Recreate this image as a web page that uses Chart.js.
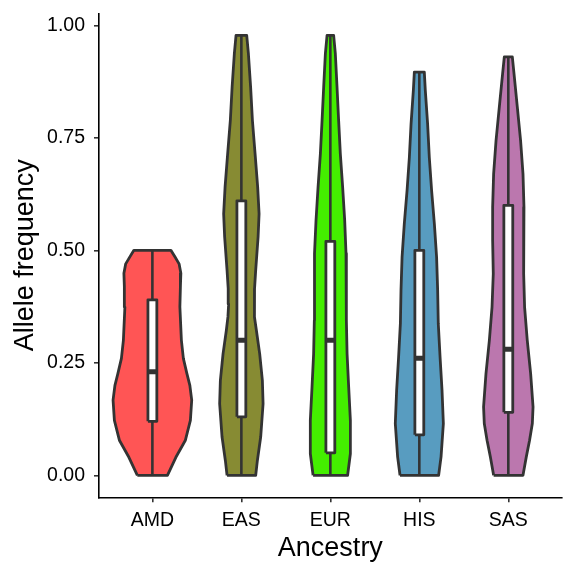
<!DOCTYPE html>
<html>
<head>
<meta charset="utf-8">
<script src="https://cdn.jsdelivr.net/npm/chart.js@4"></script>
<style>
html,body{margin:0;padding:0;background:#fff;}
#wrap{width:576px;height:576px;position:relative;}
</style>
</head>
<body>
<div id="wrap"><canvas id="c"></canvas></div>
<script>
// ---- data ----
const categories = ['AMD', 'EAS', 'EUR', 'HIS', 'SAS'];
const yTicks = [0, 0.25, 0.5, 0.75, 1.0];

// violin outlines: allele-frequency levels and half-widths (in category units)
const amdLevels = [0, 0.04, 0.078, 0.122, 0.167, 0.20, 0.226, 0.26, 0.30, 0.374, 0.42, 0.449, 0.47, 0.485, 0.5];
const amdWidths = [0.169, 0.264, 0.371, 0.427, 0.442, 0.421, 0.388, 0.348, 0.326, 0.309, 0.315, 0.320, 0.300, 0.255, 0.208];

const easLevels = [0, 0.033, 0.085, 0.159, 0.211, 0.270, 0.322, 0.352, 0.381, 0.415, 0.456, 0.530, 0.581, 0.641, 0.715, 0.789, 0.863, 0.937, 0.978];
const easWidths = [0.161, 0.180, 0.217, 0.244, 0.236, 0.206, 0.169, 0.151, 0.143, 0.148, 0.161, 0.188, 0.199, 0.183, 0.154, 0.124, 0.104, 0.079, 0.060];

const eurLevels = [0, 0.048, 0.122, 0.196, 0.270, 0.344, 0.418, 0.493, 0.567, 0.641, 0.715, 0.789, 0.863, 0.937, 0.978];
const eurWidths = [0.194, 0.225, 0.225, 0.206, 0.188, 0.180, 0.180, 0.176, 0.161, 0.138, 0.112, 0.093, 0.075, 0.056, 0.037];

const hisLevels = [0, 0.041, 0.115, 0.189, 0.263, 0.337, 0.411, 0.485, 0.559, 0.633, 0.707, 0.781, 0.856, 0.896];
const hisWidths = [0.217, 0.244, 0.270, 0.255, 0.233, 0.213, 0.206, 0.194, 0.169, 0.138, 0.112, 0.093, 0.067, 0.056];

const sasLevels = [0, 0.041, 0.078, 0.115, 0.152, 0.226, 0.300, 0.374, 0.448, 0.522, 0.596, 0.670, 0.744, 0.819, 0.893, 0.930];
const sasWidths = [0.165, 0.202, 0.239, 0.270, 0.278, 0.251, 0.213, 0.183, 0.169, 0.176, 0.176, 0.165, 0.138, 0.101, 0.064, 0.045];

// box-plot statistics
const mins    = [0, 0, 0, 0, 0];
const q1      = [0.12, 0.13, 0.05, 0.09, 0.14];
const medians = [0.23, 0.30, 0.30, 0.26, 0.28];
const q3      = [0.39, 0.61, 0.52, 0.50, 0.60];
const maxs    = [0.50, 0.978, 0.978, 0.896, 0.930];

// ---- styles ----
const fillColors = ['#FF5555', '#878B33', '#44EE00', '#589CC0', '#BB77AE'];
const lineColor = '#333333';
const boxHalf = 0.05;

const violinLevels = [amdLevels, easLevels, eurLevels, hisLevels, sasLevels];
const violinWidths = [amdWidths, easWidths, eurWidths, hisWidths, sasWidths];

const datasets = [];
categories.forEach((cat, i) => {
  const c = i + 1;
  const lv = violinLevels[i], wd = violinWidths[i];
  const pts = [];
  for (let k = 0; k < lv.length; k++) pts.push({x: c - wd[k], y: lv[k]});
  for (let k = lv.length - 1; k >= 0; k--) pts.push({x: c + wd[k], y: lv[k]});
  pts.push({x: c - wd[0], y: lv[0]});
  datasets.push({
    order: 40, data: pts, showLine: true, fill: 'shape', backgroundColor: fillColors[i],
    borderColor: lineColor, borderWidth: 2.8, pointRadius: 0, tension: 0, borderJoinStyle: 'round'
  });
  // whiskers
  datasets.push({order: 30, data: [{x: c, y: mins[i]}, {x: c, y: q1[i]}], showLine: true, fill: false,
    borderColor: lineColor, borderWidth: 2.6, pointRadius: 0, borderCapStyle: 'butt'});
  datasets.push({order: 30, data: [{x: c, y: q3[i]}, {x: c, y: maxs[i]}], showLine: true, fill: false,
    borderColor: lineColor, borderWidth: 2.6, pointRadius: 0, borderCapStyle: 'butt'});
  // box
  datasets.push({
    order: 20,
    data: [{x: c - boxHalf, y: q1[i]}, {x: c - boxHalf, y: q3[i]}, {x: c + boxHalf, y: q3[i]},
           {x: c + boxHalf, y: q1[i]}, {x: c - boxHalf, y: q1[i]}],
    showLine: true, fill: 'shape', backgroundColor: '#FFFFFF', borderColor: lineColor,
    borderWidth: 2.8, pointRadius: 0, borderJoinStyle: 'round'
  });
  // median
  datasets.push({order: 10, data: [{x: c - boxHalf, y: medians[i]}, {x: c + boxHalf, y: medians[i]}],
    showLine: true, fill: false, borderColor: lineColor, borderWidth: 5, pointRadius: 0, borderCapStyle: 'butt'});
});

const tickFont = {family: 'Liberation Sans', size: 19.5};
const titleFont = {family: 'Liberation Sans', size: 27};

new Chart(document.getElementById('c'), {
  type: 'scatter',
  data: {datasets},
  options: {
    responsive: true, maintainAspectRatio: false, animation: false,
    layout: {padding: {top: 13.3, right: 14.3, left: 0, bottom: 0}},
    plugins: {legend: {display: false}, tooltip: {enabled: false}},
    scales: {
      x: {
        type: 'linear', min: 0.4, max: 5.6,
        afterBuildTicks: s => { s.ticks = categories.map((_, i) => ({value: i + 1})); },
        afterFit: s => { s.height = 78.7; s.paddingLeft = 0; s.paddingRight = 0; },
        ticks: {font: tickFont, color: '#000', padding: 7, maxRotation: 0, autoSkip: false,
          callback: v => categories[Math.round(v) - 1]},
        grid: {display: true, drawOnChartArea: false, drawTicks: true, tickLength: 5, color: lineColor, lineWidth: 1.6},
        border: {display: true, color: '#000', width: 1.6},
        title: {display: true, text: 'Ancestry', font: titleFont, color: '#000', padding: {top: 0, bottom: 10.8}}
      },
      y: {
        type: 'linear', min: -0.0489, max: 1.0269,
        afterBuildTicks: s => { s.ticks = yTicks.map(v => ({value: v})); },
        afterFit: s => { s.width = 99; s.paddingTop = 0; s.paddingBottom = 0; },
        ticks: {font: tickFont, color: '#000', padding: 9, autoSkip: false,
          callback: v => Number(v).toFixed(2)},
        grid: {display: true, drawOnChartArea: false, drawTicks: true, tickLength: 5, color: lineColor, lineWidth: 1.6},
        border: {display: true, color: '#000', width: 1.6},
        title: {display: true, text: 'Allele frequency', font: titleFont, color: '#000', padding: {top: 9.5, bottom: 0}}
      }
    }
  }
});
</script>
</body>
</html>
